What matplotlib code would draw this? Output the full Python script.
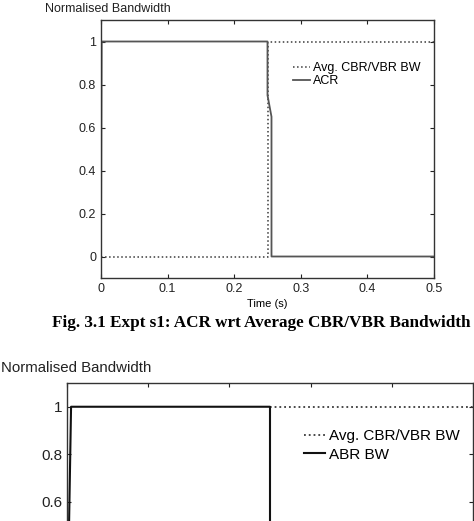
import matplotlib
matplotlib.use("Agg")
import matplotlib.pyplot as plt
from matplotlib.ticker import FuncFormatter

# ---- data ----
# Top chart (Expt s1): ACR vs average CBR/VBR bandwidth
top_avg_t = [0.0, 0.25, 0.25, 0.5]
top_avg_v = [0.0, 0.0, 1.0, 1.0]
top_acr_t = [0.0, 0.001, 0.25, 0.25, 0.256, 0.256, 0.5]
top_acr_v = [0.0, 1.0, 1.0, 0.75, 0.65, 0.0, 0.0]

# Bottom chart: ABR BW vs average CBR/VBR bandwidth
bot_avg_t = [0.0, 0.25, 0.25, 0.5]
bot_avg_v = [0.0, 0.0, 1.0, 1.0]
bot_abr_t = [0.0, 0.005, 0.25, 0.25, 0.5]
bot_abr_v = [0.0, 1.0, 1.0, 0.0, 0.0]

x_ticks = [0, 0.1, 0.2, 0.3, 0.4, 0.5]
y_ticks = [0, 0.2, 0.4, 0.6, 0.8, 1]
top_labels = ["Avg. CBR/VBR BW", "ACR"]
bot_labels = ["Avg. CBR/VBR BW", "ABR BW"]
y_title = "Normalised Bandwidth"
x_title = "Time (s)"
caption = "Fig. 3.1 Expt s1: ACR wrt Average CBR/VBR Bandwidth"

plt.rcParams['font.family'] = ['Liberation Sans', 'DejaVu Sans']

W, H = 474, 521
fig = plt.figure(figsize=(W / 100, H / 100), dpi=100)

def px_axes(left, right, top, bottom):
    return fig.add_axes([left / W, (H - bottom) / H, (right - left) / W, (bottom - top) / H])

fmt = FuncFormatter(lambda v, p: ("%g" % round(v, 3)))
line_col = "#3a3a3a"

def style(ax, fs):
    ax.set_xlim(0, 0.5)
    ax.set_ylim(-0.1, 1.1)
    ax.set_xticks(x_ticks)
    ax.set_yticks(y_ticks)
    ax.xaxis.set_major_formatter(fmt)
    ax.yaxis.set_major_formatter(fmt)
    ax.tick_params(direction='in', top=True, right=True, length=3,
                   labelsize=fs, colors="#222222", width=0.8)
    for s in ax.spines.values():
        s.set_color("#333333")
        s.set_linewidth(1.0)

# ---- top chart ----
ax1 = px_axes(101, 434, 20, 278)
ax1.plot(top_avg_t, top_avg_v, ':', color=line_col, lw=1.1, label=top_labels[0])
ax1.plot(top_acr_t, top_acr_v, '-', color="#555555", lw=1.3, label=top_labels[1])
style(ax1, 9)
ax1.set_xlabel(x_title, fontsize=8, labelpad=3)
ax1.legend(loc='upper left', bbox_to_anchor=(0.555, 0.865), frameon=False,
           fontsize=9, handlelength=1.3, handletextpad=0.3,
           labelspacing=0.05, borderpad=0.1)
fig.text(45 / W, 1 - 9 / H, y_title, fontsize=9, va='center', ha='left', color="#222222")

# caption
fig.text(0.993, 1 - 323 / H, caption, fontsize=12.3, fontweight='bold',
         family=['Liberation Serif', 'DejaVu Serif'], ha='right', va='center')

# ---- bottom chart (cropped by the page edge) ----
ax2 = px_axes(67, 473, 383, 668)
ax2.plot(bot_avg_t, bot_avg_v, ':', color=line_col, lw=1.3, label=bot_labels[0])
ax2.plot(bot_abr_t, bot_abr_v, '-', color="#111111", lw=1.5, label=bot_labels[1])
style(ax2, 11)
# labels that fall below the page edge are not shown in the reference
ax2.tick_params(labelbottom=False)
ax2.yaxis.set_major_formatter(FuncFormatter(lambda v, p: ("%g" % round(v, 3)) if v >= 0.5 else ""))
ax2.legend(loc='upper left', bbox_to_anchor=(0.56, 0.87), frameon=False,
           fontsize=11, handlelength=1.4, handletextpad=0.3,
           labelspacing=0.3, borderpad=0.1)
fig.text(1 / W, 1 - 368 / H, y_title, fontsize=10.8, va='center', ha='left', color="#222222")

fig.savefig("out.png", dpi=100)
